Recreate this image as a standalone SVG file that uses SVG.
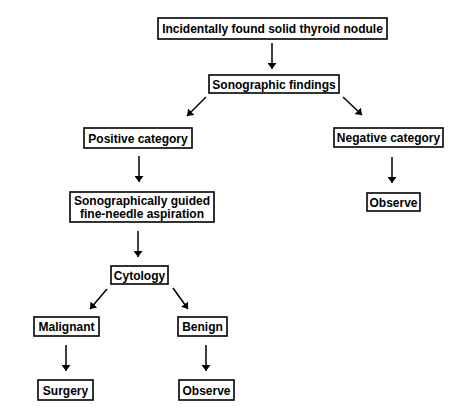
<svg xmlns="http://www.w3.org/2000/svg" width="474" height="416" viewBox="0 0 474 416">
<style>
rect{fill:#fff;stroke:#000;stroke-width:1.6}
text{font-family:"Liberation Sans",Arial,sans-serif;font-weight:bold;font-size:12px;text-anchor:middle;fill:#000}
line{stroke:#000;stroke-width:1.5;marker-end:url(#a)}
</style>
<defs><marker id="a" viewBox="0 0 10 10" refX="10" refY="5" markerWidth="4" markerHeight="6" orient="auto" markerUnits="strokeWidth" preserveAspectRatio="none"><path d="M0,0L10,5L0,10z"/></marker></defs>
<rect x="0" y="0" width="474" height="416" style="stroke:none"/>
<g id="n1"><rect x="158" y="18" width="229" height="21"/><text x="272.5" y="33">Incidentally found solid thyroid nodule</text></g>
<g id="n2"><rect x="209" y="75" width="130" height="18"/><text x="274" y="88.5">Sonographic findings</text></g>
<g id="n3"><rect x="84" y="128" width="108" height="20"/><text x="138" y="142.5">Positive category</text></g>
<g id="n4"><rect x="334" y="128" width="109" height="19"/><text x="388.5" y="142">Negative category</text></g>
<g id="n5"><rect x="70" y="192" width="144" height="30"/><text x="142" y="205">Sonographically guided</text><text x="142" y="218">fine-needle aspiration</text></g>
<g id="n6"><rect x="367" y="193" width="53" height="18"/><text x="393.5" y="206.5">Observe</text></g>
<g id="n7"><rect x="111" y="266" width="57" height="18"/><text x="139.5" y="279.5">Cytology</text></g>
<g id="n8"><rect x="34" y="317" width="65" height="19"/><text x="66.5" y="331">Malignant</text></g>
<g id="n9"><rect x="178" y="317" width="49" height="19"/><text x="202.5" y="331">Benign</text></g>
<g id="n10"><rect x="38" y="380" width="55" height="20"/><text x="65.5" y="394.5">Surgery</text></g>
<g id="n11"><rect x="179" y="380" width="55" height="20"/><text x="206.5" y="394.5">Observe</text></g>
<g id="edges">
<line x1="272" y1="43" x2="272" y2="69"/>
<line x1="206" y1="97" x2="187" y2="116"/>
<line x1="343" y1="97" x2="362" y2="115"/>
<line x1="139" y1="156" x2="139" y2="182"/>
<line x1="392" y1="157" x2="392" y2="183"/>
<line x1="138" y1="231" x2="138" y2="257"/>
<line x1="107" y1="289" x2="90" y2="309"/>
<line x1="173" y1="288" x2="188" y2="309"/>
<line x1="66" y1="345" x2="66" y2="371"/>
<line x1="206" y1="345" x2="206" y2="371"/>
</g>
</svg>
